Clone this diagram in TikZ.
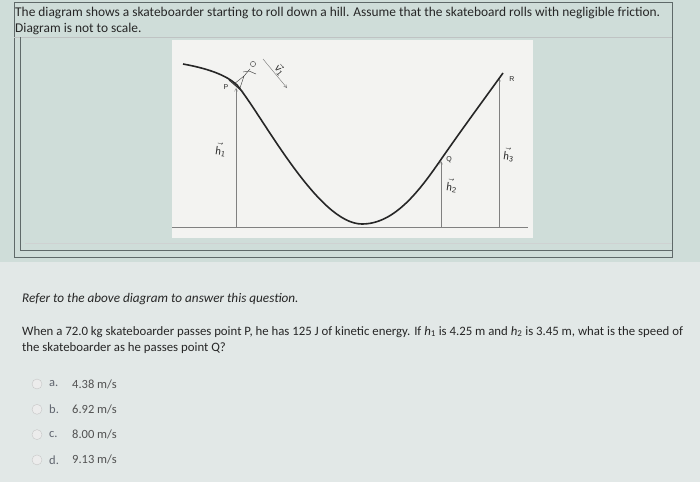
\documentclass[tikz,border=0pt]{standalone}
\usepackage{fontspec}
\setmainfont{Carlito}
\newfontfamily\labfont{Liberation Sans}
\usetikzlibrary{positioning,arrows.meta}
\definecolor{bgtop}{RGB}{207,221,217}
\definecolor{bglow}{RGB}{226,232,231}
\definecolor{panel}{RGB}{243,243,241}
\definecolor{frame}{RGB}{95,105,105}
\definecolor{ink}{RGB}{38,38,38}
\definecolor{optgray}{RGB}{95,100,110}

\begin{document}
\begin{tikzpicture}[x=1pt,y=-1pt,
    title/.style={anchor=base west,inner sep=0pt,text=ink,font=\fontsize{13.4}{15}\selectfont},
    body/.style={anchor=base west,inner sep=0pt,text=ink,font=\fontsize{12.8}{14}\selectfont},
    ptlab/.style={inner sep=0pt,text=ink,font=\labfont\fontsize{7}{7}\selectfont},
    hlab/.style={inner sep=0pt,text=ink,font=\fontsize{12}{12}\selectfont,rotate=-8},
    harrow/.style={gray,thin,-{Straight Barb[length=3pt,width=3pt]}},
    radio/.style={circle,draw=gray!45,fill=white!85!gray,minimum size=10pt,inner sep=0pt}]
    \useasboundingbox (0,0) rectangle (700,482);
    \fill[bglow] (0,0) rectangle (700,482);
    \fill[bgtop] (0,0) rectangle (700,262);
    \draw[frame] (14,2) rectangle (672,257);
    \draw[frame!40] (14,37) -- (672,37);
    \draw[frame] (20,37) -- (20,250) -- (672,250);
    \draw[frame!30] (25,243) -- (672,243);
    \fill[panel] (172,40) rectangle (533,238);
    \node[title] (t1) at (15,16) {The diagram shows a skateboarder starting to roll down a hill. Assume that the skateboard rolls with negligible friction.};
    \node[title] (t2) at (15,32) {Diagram is not to scale.};
    \coordinate (A) at (183,64);
    \coordinate (P) at (237,85);
    \coordinate (B) at (362,224);
    \coordinate (Q) at (442,158);
    \coordinate (R) at (503,73);
    \coordinate (g1) at (236,227);
    \coordinate (g2) at (441,227);
    \coordinate (g3) at (499,227);
    \draw[gray] (172,227) -- (528,227);
    \draw[harrow] (g1) -- (236,88);
    \draw[harrow] (g2) -- (441,161);
    \draw[harrow] (g3) -- (499,78);
    \draw[black!85,line width=1.6pt] (A) .. controls (205,68) and (225,74) .. (P)
        .. controls (262,115) and (318,224) .. (B)
        .. controls (395,224) and (420,190) .. (Q)
        .. controls (465,125) and (485,98) .. (R);
    \draw[black!80,line width=1pt] (229,80) -- (243,92);
    \draw[black!80,thin] (234,84) -- (244,76) -- (240,88);
    \draw[black!80,thin] (244,76) -- (250,69);
    \draw[black!80,thin] (243,72) -- (249,71) -- (256,74);
    \draw[black!80,thin] (253,64) circle (2.6);
    \draw[gray!90!black,thin,-{Straight Barb[length=3pt,width=3pt]}] (263,59) -- (287,88);
    \node[ptlab] (lP) at (226,87) {P};
    \node[ptlab] (lQ) at (449,160) {Q};
    \node[ptlab] (lR) at (512,79) {R};
    \node[hlab] (h1) at (221,150) {$\vec{\mathsf{h}}_{\mathsf{1}}$};
    \node[hlab] (h2) at (452,186) {$\vec{\mathsf{h}}_{\mathsf{2}}$};
    \node[hlab] (h3) at (509,155) {$\vec{\mathsf{h}}_{\mathsf{3}}$};
    \node[hlab,rotate=-42] (v1) at (280,70) {$\vec{\mathsf{v}}_{\mathsf{1}}$};
    \node[body,font=\fontsize{13.2}{14}\selectfont\itshape] (ref) at (22,302) {Refer to the above diagram to answer this question.};
    \node[body] (q1) at (22,335) {When a 72.0 kg skateboarder passes point P, he has 125 J of kinetic energy. If \textit{h}\textsubscript{1} is 4.25 m and \textit{h}\textsubscript{2} is 3.45 m, what is the speed of};
    \node[body] (q2) at (22,351) {the skateboarder as he passes point Q?};
    \foreach \l/\v [count=\i from 0] in {a./4.38,b./6.92,c./8.00,d./9.13} {
        \node[radio] (rb\i) at (37,{384+25.3*\i}) {};
        \node[anchor=west,inner sep=0pt,text=optgray,font=\fontsize{12.5}{13}\selectfont] (ol\i) at (49,{384+25.3*\i}) {\l};
        \node[anchor=west,inner sep=0pt,text=ink!80,font=\fontsize{12.5}{13}\selectfont] (ov\i) at (72,{384+25.3*\i}) {\v\ m/s};
    }
\end{tikzpicture}
\end{document}
